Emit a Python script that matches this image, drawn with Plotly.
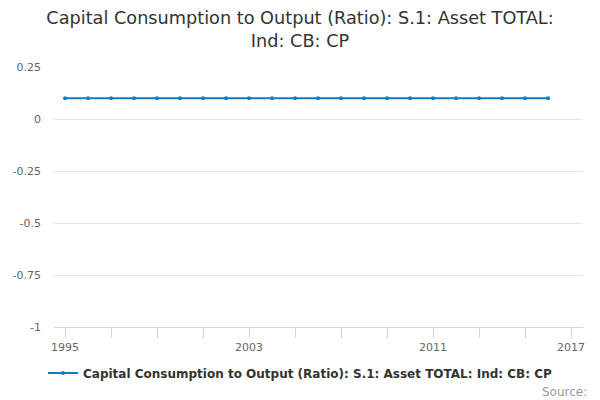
import plotly.graph_objects as go

# data
years = list(range(1995, 2017))
ratio = [0.1] * len(years)
series_name = 'Capital Consumption to Output (Ratio): S.1: Asset TOTAL: Ind: CB: CP'

tick_years = list(range(1995, 2018, 2))
tick_labels = [str(y) if y in (1995, 2003, 2011, 2017) else '' for y in tick_years]
y_ticks = [0.25, 0, -0.25, -0.5, -0.75, -1]
y_labels = ['0.25', '0', '-0.25', '-0.5', '-0.75', '-1']

fig = go.Figure()
fig.add_trace(go.Scatter(
    x=years, y=ratio, mode='lines+markers', name=series_name,
    line=dict(color='#0f7dc2', width=2),
    marker=dict(size=4, color='#0f7dc2'),
))

fig.update_layout(
    width=600, height=400,
    font=dict(family='DejaVu Sans', color='#333333'),
    title=dict(text='Capital Consumption to Output (Ratio): S.1: Asset TOTAL:<br>Ind: CB: CP',
               x=0.5, xanchor='center', y=0.94, yanchor='top',
               font=dict(size=17.7, color='#333333')),
    plot_bgcolor='white', paper_bgcolor='white',
    margin=dict(l=54, r=17, t=67, b=73, autoexpand=False),
    showlegend=True,
    legend=dict(orientation='h', xref='container', x=0.5, xanchor='center',
                y=-0.177, yanchor='middle',
                font=dict(size=12, color='#333333', weight='bold')),
)
fig.update_xaxes(
    range=[1994.52, 2017.52], tickmode='array', tickvals=tick_years, ticktext=tick_labels,
    showgrid=False, showline=True, linecolor='#ccd6eb', linewidth=1,
    ticks='outside', ticklen=10, tickcolor='#ccd6eb', automargin=False,
    tickfont=dict(size=11, color='#666666'), zeroline=False,
)
fig.update_yaxes(
    range=[-1, 0.25], tickmode='array', tickvals=y_ticks, ticktext=y_labels,
    showgrid=True, gridcolor='#e6e6e6', zeroline=False, showline=False,
    ticks='', ticklabelstandoff=12, automargin=False,
    tickfont=dict(size=11, color='#666666'),
)
fig.add_annotation(text='Source:', xref='paper', yref='paper', x=1.011, y=-0.25,
                   xanchor='right', yanchor='middle', showarrow=False,
                   font=dict(size=12, color='#999999'))

# the page body has a default 8px margin; drop it so the figure fills the window
fig.write_html('out.html', config={'displayModeBar': False},
               post_script="document.body.style.margin='0';")
